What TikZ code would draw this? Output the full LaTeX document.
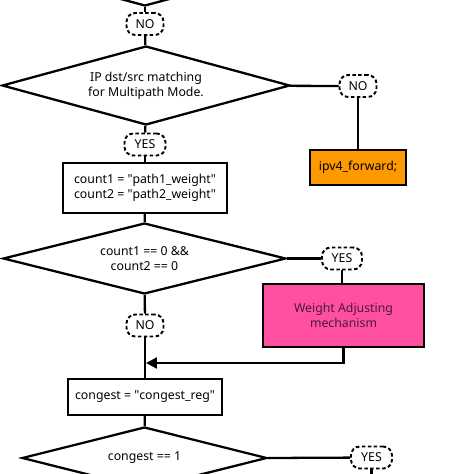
\documentclass[tikz,border=0pt]{standalone}
\usepackage{fontspec}
\setmainfont{Noto Sans}
\usetikzlibrary{arrows.meta, positioning, shapes.geometric}
\definecolor{corange}{HTML}{FF9900}
\definecolor{cpink}{HTML}{FF4FA0}
\definecolor{cplum}{HTML}{4A1840}
\tikzset{
  every picture/.style={font=\fontsize{7}{8.6}\selectfont, line width=1.3pt},
  decision/.style={diamond, draw, fill=white, align=center, inner sep=0pt, aspect=3.8},
  proc/.style={draw, fill=#1, align=center, inner sep=2pt},
  proc/.default=white,
  tag/.style={draw, line width=1.1pt, dash pattern=on 2pt off 1.4pt, rounded corners=5pt, fill=white,
    minimum width=0.74cm, minimum height=0.44cm, inner sep=1pt},
  arrow/.style={-{Triangle[length=2.2mm, width=2.2mm]}},
}
\newcommand{\qq}{\textquotedbl}
\begin{document}
\begin{tikzpicture}[x=0.02cm, y=-0.02cm]
  \useasboundingbox (0,0) rectangle (474,474);
  % decisions
  \node[decision, minimum width=5.6cm, minimum height=1.52cm] (d0) at (145,-32) {};
  \node[decision, minimum width=5.76cm, minimum height=1.58cm] (d1) at (146,85.5) {IP dst/src matching\\for Multipath Mode.};
  \node[decision, minimum width=5.66cm, minimum height=1.42cm] (d2) at (144.5,258.5) {count1 == 0 \&\&\\count2 == 0};
  \node[decision, minimum width=4.9cm, minimum height=1.24cm] (d3) at (144.5,458) {congest == 1};
  % boxes
  \node[proc=corange, minimum width=1.92cm, minimum height=0.7cm] (fwd) at (358,167.5) {ipv4\_forward;};
  \node[proc, minimum width=3.28cm, minimum height=1cm] (cnt) at (145,188) {count1 = \qq path1\_weight\qq\\count2 = \qq path2\_weight\qq};
  \node[proc=cpink, text=cplum, minimum width=3.22cm, minimum height=1.26cm] (wam) at (343.5,315.5) {Weight Adjusting\\mechanism};
  \node[proc, minimum width=3.08cm, minimum height=0.72cm] (cng) at (145,397) {congest = \qq congest\_reg\qq};
  % yes / no tags
  \node[tag] (no0) at (145,24) {NO};
  \node[tag] (no1) at (358,86) {NO};
  \node[tag, minimum width=0.82cm] (yes1) at (145,144.5) {YES};
  \node[tag, minimum width=0.8cm] (yes2) at (342,258.5) {YES};
  \node[tag] (no2) at (145,325.5) {NO};
  \node[tag, minimum width=0.82cm] (yes3) at (371.5,457.5) {YES};
  \coordinate (join) at (146,363);
  \coordinate (down) at (372,490);
  % connectors
  \draw (d0) -- (no0);
  \draw (no0) -- (d1);
  \draw (d1) -- (no1);
  \draw (no1) -- (fwd);
  \draw (d1) -- (yes1);
  \draw (yes1) -- (cnt);
  \draw (cnt) -- (d2);
  \draw (d2.east) -- (yes2);
  \draw (yes2.south) -- (yes2.south |- wam.north);
  \draw (d2) -- (no2);
  \draw (no2) -- (cng);
  \draw[arrow] (wam.south) |- (join);
  \draw (cng) -- (d3);
  \draw (d3.east) -- (yes3);
  \draw (yes3.south) -- (yes3.south |- down);
\end{tikzpicture}
\end{document}
